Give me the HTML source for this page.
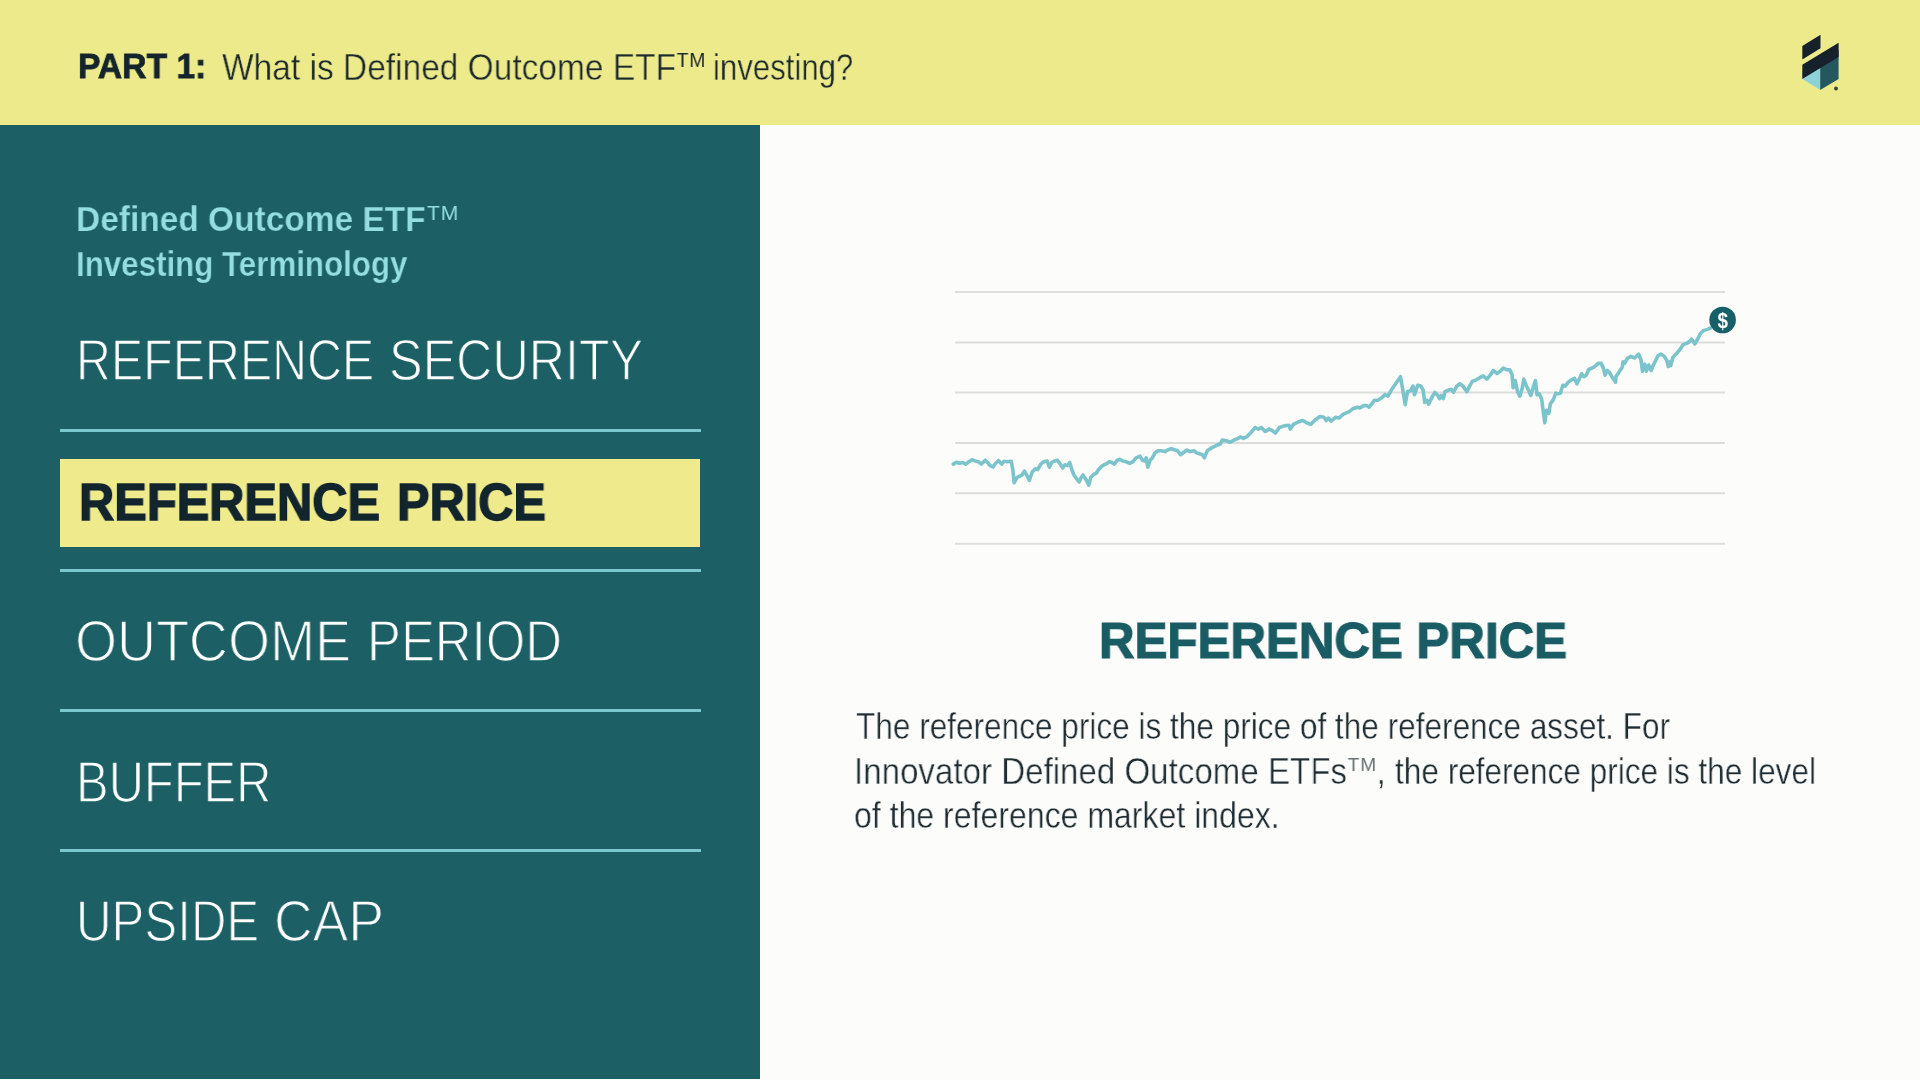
<!DOCTYPE html>
<html lang="en">
<head>
<meta charset="utf-8">
<title>Defined Outcome ETF Investing Terminology</title>
<style>
html,body{margin:0;padding:0;}
body{width:1920px;height:1080px;overflow:hidden;background:#fcfcfa;position:relative;font-family:"Liberation Sans",sans-serif;}
.abs{position:absolute;white-space:nowrap;line-height:1;transform-origin:0 0;will-change:transform;}
#header{position:absolute;left:0;top:0;width:1920px;height:125px;background:#edea8b;}
#panel{position:absolute;left:0;top:125px;width:760.4px;height:954px;background:#1c6066;}
.rule{position:absolute;left:59.5px;width:641.5px;height:2.4px;background:#7ac8ce;}
#hl{position:absolute;left:60px;top:459px;width:640px;height:88px;background:#efea8c;}
.menu{color:#fff;font-weight:normal;}
.bold{font-weight:bold;}
.sub{color:#94dde0;font-weight:bold;}
.para{color:#1f2d33;}
sup.tm{display:inline-block;font-size:52%;letter-spacing:0.05em;vertical-align:baseline;position:relative;top:-0.69em;line-height:1;transform:scaleX(1.1);transform-origin:0 0;margin-left:0.05em;margin-right:0.12em;-webkit-text-stroke:0;}
sup.tm2{font-weight:normal;font-size:56%;top:-0.57em;transform:scaleX(1.12);margin-right:0.14em;}
#chart{position:absolute;left:0;top:0;will-change:transform;}
</style>
</head>
<body>
<div id="header"></div>
<div id="panel"></div>

<div class="abs bold" id="t_part" style="left:77.80px;top:48.20px;font-size:35.2px;transform:scaleX(0.9556);-webkit-text-stroke:0.8px #13242c;color:#13242c;">PART 1:</div>
<div class="abs " id="t_what" style="left:222.00px;top:48.51px;font-size:37.2px;transform:scaleX(0.9005);-webkit-text-stroke:0.4px #edea8b;color:#1d2a2c;">What is Defined Outcome ETF<sup class="tm">TM</sup></div>
<div class="abs " id="t_what2" style="left:712.65px;top:48.51px;font-size:37.2px;transform:scaleX(0.8377);-webkit-text-stroke:0.4px #edea8b;color:#1d2a2c;">investing?</div>

<div class="abs sub" id="t_def1" style="left:76.38px;top:201.40px;font-size:35.2px;transform:scaleX(0.9513);-webkit-text-stroke:0.25px #1c6066;">Defined Outcome ETF<sup class="tm tm2">TM</sup></div>
<div class="abs sub" id="t_def2" style="left:76.22px;top:245.80px;font-size:35.2px;transform:scaleX(0.8890);-webkit-text-stroke:0.25px #1c6066;">Investing Terminology</div>

<div class="abs menu" id="m1a" style="left:76.16px;top:332.14px;font-size:57.6px;transform:scaleX(0.8396);-webkit-text-stroke:1.4px #1c6066;">REFERENCE</div>
<div class="abs menu" id="m1b" style="left:389.39px;top:332.14px;font-size:57.6px;transform:scaleX(0.8732);-webkit-text-stroke:1.4px #1c6066;">SECURITY</div>
<div class="rule" style="top:429.4px;"></div>
<div id="hl"></div>
<div class="abs bold" id="m2a" style="left:78.67px;top:476.62px;font-size:51.6px;transform:scaleX(0.9462);-webkit-text-stroke:1.4px #12252d;color:#12252d;">REFERENCE</div>
<div class="abs bold" id="m2b" style="left:396.97px;top:476.62px;font-size:51.6px;transform:scaleX(0.9443);-webkit-text-stroke:1.4px #12252d;color:#12252d;">PRICE</div>
<div class="rule" style="top:569.4px;"></div>
<div class="abs menu" id="m3a" style="left:74.88px;top:612.64px;font-size:57.6px;transform:scaleX(0.9376);-webkit-text-stroke:1.4px #1c6066;">OUTCOME</div>
<div class="abs menu" id="m3b" style="left:367.25px;top:612.64px;font-size:57.6px;transform:scaleX(0.8831);-webkit-text-stroke:1.4px #1c6066;">PERIOD</div>
<div class="rule" style="top:709.4px;"></div>
<div class="abs menu" id="m4" style="left:75.62px;top:753.84px;font-size:57.6px;transform:scaleX(0.8483);-webkit-text-stroke:1.4px #1c6066;">BUFFER</div>
<div class="rule" style="top:849.4px;"></div>
<div class="abs menu" id="m5a" style="left:75.89px;top:893.24px;font-size:57.6px;transform:scaleX(0.8544);-webkit-text-stroke:1.4px #1c6066;">UPSIDE</div>
<div class="abs menu" id="m5b" style="left:273.80px;top:893.24px;font-size:57.6px;transform:scaleX(0.9291);-webkit-text-stroke:1.4px #1c6066;">CAP</div>

<svg id="chart" width="1920" height="1080" viewBox="0 0 1920 1080">
<g stroke="#dddddc" stroke-width="2">
<line x1="955" y1="292" x2="1725" y2="292"/>
<line x1="955" y1="342.6" x2="1725" y2="342.6"/>
<line x1="955" y1="392.5" x2="1725" y2="392.5"/>
<line x1="955" y1="443" x2="1725" y2="443"/>
<line x1="955" y1="493.3" x2="1725" y2="493.3"/>
<line x1="955" y1="543.7" x2="1725" y2="543.7"/>
</g>
<polyline fill="none" stroke="#7cc4cc" stroke-width="3.6" stroke-linejoin="round" stroke-linecap="round" points="953.3,464.1 956.4,462.2 959.5,463.3 962.7,462.5 965.8,464.1 968.9,461.7 972.0,459.7 975.2,460.9 978.3,461.7 981.4,464.1 985.3,460.2 987.7,462.5 990.0,465.6 993.1,466.9 995.5,463.3 998.6,460.6 1001.7,464.1 1004.1,461.2 1007.2,461.7 1011.1,461.2 1012.7,468.8 1014.2,482.8 1016.6,478.1 1018.9,476.6 1022.0,475.0 1024.4,471.1 1026.7,475.0 1029.4,480.5 1032.2,471.9 1035.3,468.8 1037.7,469.5 1040.8,464.1 1043.9,461.7 1047.0,460.9 1049.4,467.2 1051.7,462.5 1054.8,460.9 1057.2,460.2 1060.3,464.1 1062.7,468.0 1065.0,464.8 1067.3,465.6 1069.7,462.5 1072.0,470.3 1074.4,475.8 1076.7,478.9 1079.1,482.0 1081.4,477.3 1083.0,475.0 1086.1,479.7 1088.8,485.2 1090.8,477.3 1093.9,474.2 1096.2,473.4 1098.6,469.5 1102.5,465.6 1105.6,464.1 1109.5,461.7 1111.9,462.5 1114.2,464.1 1117.3,460.2 1119.7,459.4 1122.8,460.9 1125.9,461.7 1129.8,463.3 1133.0,461.7 1136.1,457.8 1140.0,456.2 1142.3,460.2 1144.7,460.9 1146.2,457.8 1147.8,467.2 1150.2,460.2 1152.5,457.8 1154.8,453.1 1158.0,450.8 1161.1,450.8 1165.0,451.6 1168.1,449.7 1171.2,448.8 1174.4,449.7 1177.5,450.8 1180.6,454.7 1183.8,452.3 1186.9,450.0 1190.0,451.6 1193.9,450.8 1197.0,453.1 1200.2,453.9 1202.5,454.7 1204.4,457.8 1207.2,450.8 1211.9,447.7 1216.6,445.3 1220.5,443.8 1222.3,440.0 1226.2,440.8 1230.2,442.3 1234.1,440.0 1238.0,438.4 1240.3,436.9 1243.4,438.4 1246.6,436.9 1251.2,432.2 1255.2,427.5 1258.3,429.1 1261.4,427.5 1265.3,431.4 1269.2,429.1 1272.3,430.6 1275.5,433.0 1279.4,427.5 1284.1,425.9 1288.8,425.2 1290.3,429.1 1293.4,424.4 1298.1,422.0 1302.8,420.5 1306.7,422.8 1310.6,424.4 1315.3,419.7 1320.0,416.6 1323.9,417.3 1326.2,420.5 1328.6,418.1 1330.9,421.2 1335.6,417.3 1338.8,418.1 1343.4,414.2 1348.9,411.9 1352.8,408.8 1357.5,407.2 1359.8,408.0 1363.8,405.6 1366.9,405.6 1369.2,407.2 1374.7,400.2 1377.8,400.2 1381.7,397.8 1384.8,394.7 1388.0,396.2 1391.9,389.2 1396.6,382.2 1400.5,376.7 1402.8,390.0 1405.2,404.8 1407.5,391.6 1410.6,390.8 1413.0,386.1 1414.5,394.7 1417.7,385.3 1420.8,386.1 1423.1,390.0 1424.7,402.5 1427.0,400.2 1428.6,404.1 1431.7,397.8 1434.8,392.3 1437.2,394.7 1439.5,398.6 1441.1,395.5 1443.4,398.6 1445.0,391.6 1448.9,390.0 1451.2,389.2 1453.6,392.3 1456.7,386.1 1459.8,383.8 1463.0,386.1 1466.9,391.6 1470.0,385.3 1472.3,381.4 1476.2,379.8 1483.1,375.9 1487.0,379.1 1490.2,375.2 1493.3,370.5 1497.2,373.6 1500.3,371.2 1503.4,368.1 1506.6,369.7 1509.7,369.7 1512.0,374.4 1513.1,387.7 1515.2,380.6 1517.5,391.6 1519.8,396.2 1522.2,388.4 1523.8,379.1 1526.1,385.3 1528.4,390.0 1530.8,395.5 1533.1,387.7 1535.5,380.6 1537.0,394.7 1539.4,393.9 1541.7,399.4 1543.3,411.9 1544.8,422.8 1546.4,410.3 1548.8,413.4 1550.3,404.1 1553.4,399.4 1555.8,393.1 1558.1,393.9 1560.5,393.1 1562.8,385.3 1565.2,386.1 1568.3,382.2 1571.4,379.8 1574.5,378.3 1576.9,383.8 1579.2,379.1 1581.6,373.6 1583.9,376.7 1586.2,375.2 1588.6,369.7 1591.7,368.1 1594.8,366.6 1598.0,363.4 1601.1,363.4 1603.4,368.1 1605.0,375.2 1607.3,370.5 1609.7,372.8 1612.8,378.3 1615.6,382.2 1615.9,376.7 1619.1,372.0 1622.2,367.3 1623.0,361.9 1624.5,363.4 1627.7,358.0 1630.8,356.4 1634.7,358.0 1638.6,354.1 1640.9,359.5 1642.5,371.2 1644.8,364.2 1646.4,371.2 1648.8,365.0 1651.1,370.5 1653.4,365.0 1655.8,360.3 1658.1,355.6 1661.2,354.1 1664.4,356.4 1666.7,360.3 1668.3,366.6 1669.8,361.9 1670.6,365.8 1673.0,357.2 1676.1,354.1 1680.0,349.4 1683.1,344.7 1687.0,343.1 1689.4,341.6 1691.7,339.2 1694.8,343.9 1697.2,340.0 1700.3,333.8 1703.4,330.6 1707.3,329.4 1710.5,328.0"/>
<circle cx="1722.6" cy="320" r="13.3" fill="#17606a"/>
<text transform="translate(1722.7 327.6) scale(0.86 1)" x="0" y="0" text-anchor="middle" font-family="Liberation Sans, sans-serif" font-weight="bold" font-size="22" fill="#ffffff">$</text>
<g>
<polygon points="1802.3,46 1820.5,34.7 1820.5,48.2 1802.3,59.4" fill="#16212c"/>
<polygon points="1802.3,72 1820.5,62 1820.5,90.1 1802.3,79.1" fill="#8dd3d6"/>
<polygon points="1820.2,62 1838.6,50 1838.6,79.1 1820.2,90.1" fill="#25575f"/>
<polygon points="1802.3,64.8 1838.6,42.8 1838.6,57 1802.3,79.1" fill="#16212c"/>
<circle cx="1836" cy="88.5" r="2" fill="#3a4a3a"/>
</g>
</svg>

<div class="abs bold" id="h_ref" style="left:1098.79px;top:616.37px;font-size:50.6px;transform:scaleX(0.9736);-webkit-text-stroke:1.2px #1a5c64;color:#1a5c64;">REFERENCE PRICE</div>
<div class="abs para" id="p1" style="left:855.71px;top:709.45px;font-size:36.8px;transform:scaleX(0.8578);-webkit-text-stroke:0.4px #fcfcfa;">The reference price is the price of the reference asset. For</div>
<div class="abs para" id="p2a" style="left:854.20px;top:754.05px;font-size:36.8px;transform:scaleX(0.8994);-webkit-text-stroke:0.4px #fcfcfa;">Innovator Defined Outcome ETFs<sup class="tm" style="color:#6a7274">TM</sup>,</div>
<div class="abs para" id="p2b" style="left:1395.21px;top:754.05px;font-size:36.8px;transform:scaleX(0.8575);-webkit-text-stroke:0.4px #fcfcfa;">the reference price is the level</div>
<div class="abs para" id="p3" style="left:854.34px;top:798.35px;font-size:36.8px;transform:scaleX(0.8707);-webkit-text-stroke:0.4px #fcfcfa;">of the reference market index.</div>
</body>
</html>
